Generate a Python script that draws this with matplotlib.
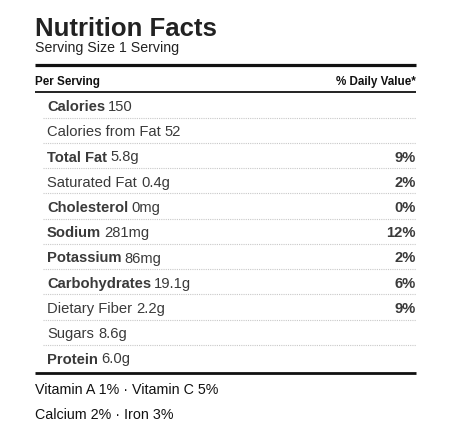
import matplotlib
matplotlib.use("Agg")
import matplotlib.pyplot as plt

plt.rcParams['font.family'] = ['Liberation Sans', 'DejaVu Sans']

# label data
title = "Nutrition Facts"
serving = "Serving Size 1 Serving"
nutrients = ['Calories', 'Calories from Fat', 'Total Fat', 'Saturated Fat', 'Cholesterol',
             'Sodium', 'Potassium', 'Carbohydrates', 'Dietary Fiber', 'Sugars', 'Protein']
amounts = ['150', '52', '5.8g', '0.4g', '0mg', '281mg', '86mg', '19.1g', '2.2g', '8.6g', '6.0g']
daily = ['', '', '9%', '2%', '0%', '12%', '2%', '6%', '9%', '', '']
is_bold = [True, False, True, False, True, True, True, True, False, False, True]
vitamins = ['Vitamin A 1% \u00b7 Vitamin C 5%', 'Calcium 2% \u00b7 Iron 3%']

W, H = 450, 438
fig = plt.figure(figsize=(W / 100, H / 100), dpi=100)
ax = fig.add_axes([0, 0, 1, 1])
ax.set_xlim(0, W)
ax.set_ylim(H, 0)
ax.axis('off')
renderer = fig.canvas.get_renderer()

left, right = 35, 416
txt = '#3a3a3a'
fs = 10.6

ax.text(left, 36.5, title, fontsize=18.5, fontweight='bold', color='#222222', va='baseline')
ax.text(left, 52, serving, fontsize=10.2, color='#222222', va='baseline')
ax.plot([left, right], [64.5, 64.5], color='#111111', lw=2.3, solid_capstyle='butt')
ax.text(left, 85, 'Per Serving', fontsize=8.4, fontweight='bold', color='#111111', va='baseline')
ax.text(right, 85, '% Daily Value*', fontsize=8.4, fontweight='bold', color='#111111',
        va='baseline', ha='right')
ax.plot([left, right], [91.5, 91.5], color='#111111', lw=1.3, solid_capstyle='butt')

step = 25.25
for i, name in enumerate(nutrients):
    y = 111 + i * step
    t = ax.text(47, y, name, fontsize=fs, color=txt, va='baseline',
                fontweight='bold' if is_bold[i] else 'normal')
    w = t.get_window_extent(renderer).width
    gap = 3 if is_bold[i] else 4.2
    ax.text(47 + w + gap, y, amounts[i], fontsize=fs, color=txt, va='baseline')
    if daily[i]:
        ax.text(right, y, daily[i], fontsize=fs, fontweight='bold', color=txt,
                va='baseline', ha='right')
    if i < len(nutrients) - 1:
        ax.plot([43, right], [y + 6.5, y + 6.5], color='#c8c8c8', lw=0.8,
                linestyle=(0, (1, 1)))

ax.plot([left, right], [372.7, 372.7], color='#111111', lw=2.0, solid_capstyle='butt')
for j, line in enumerate(vitamins):
    ax.text(left, 394.5 + j * 24.5, line, fontsize=10.3, color='#111111', va='baseline')

fig.savefig('out.png', dpi=100)
